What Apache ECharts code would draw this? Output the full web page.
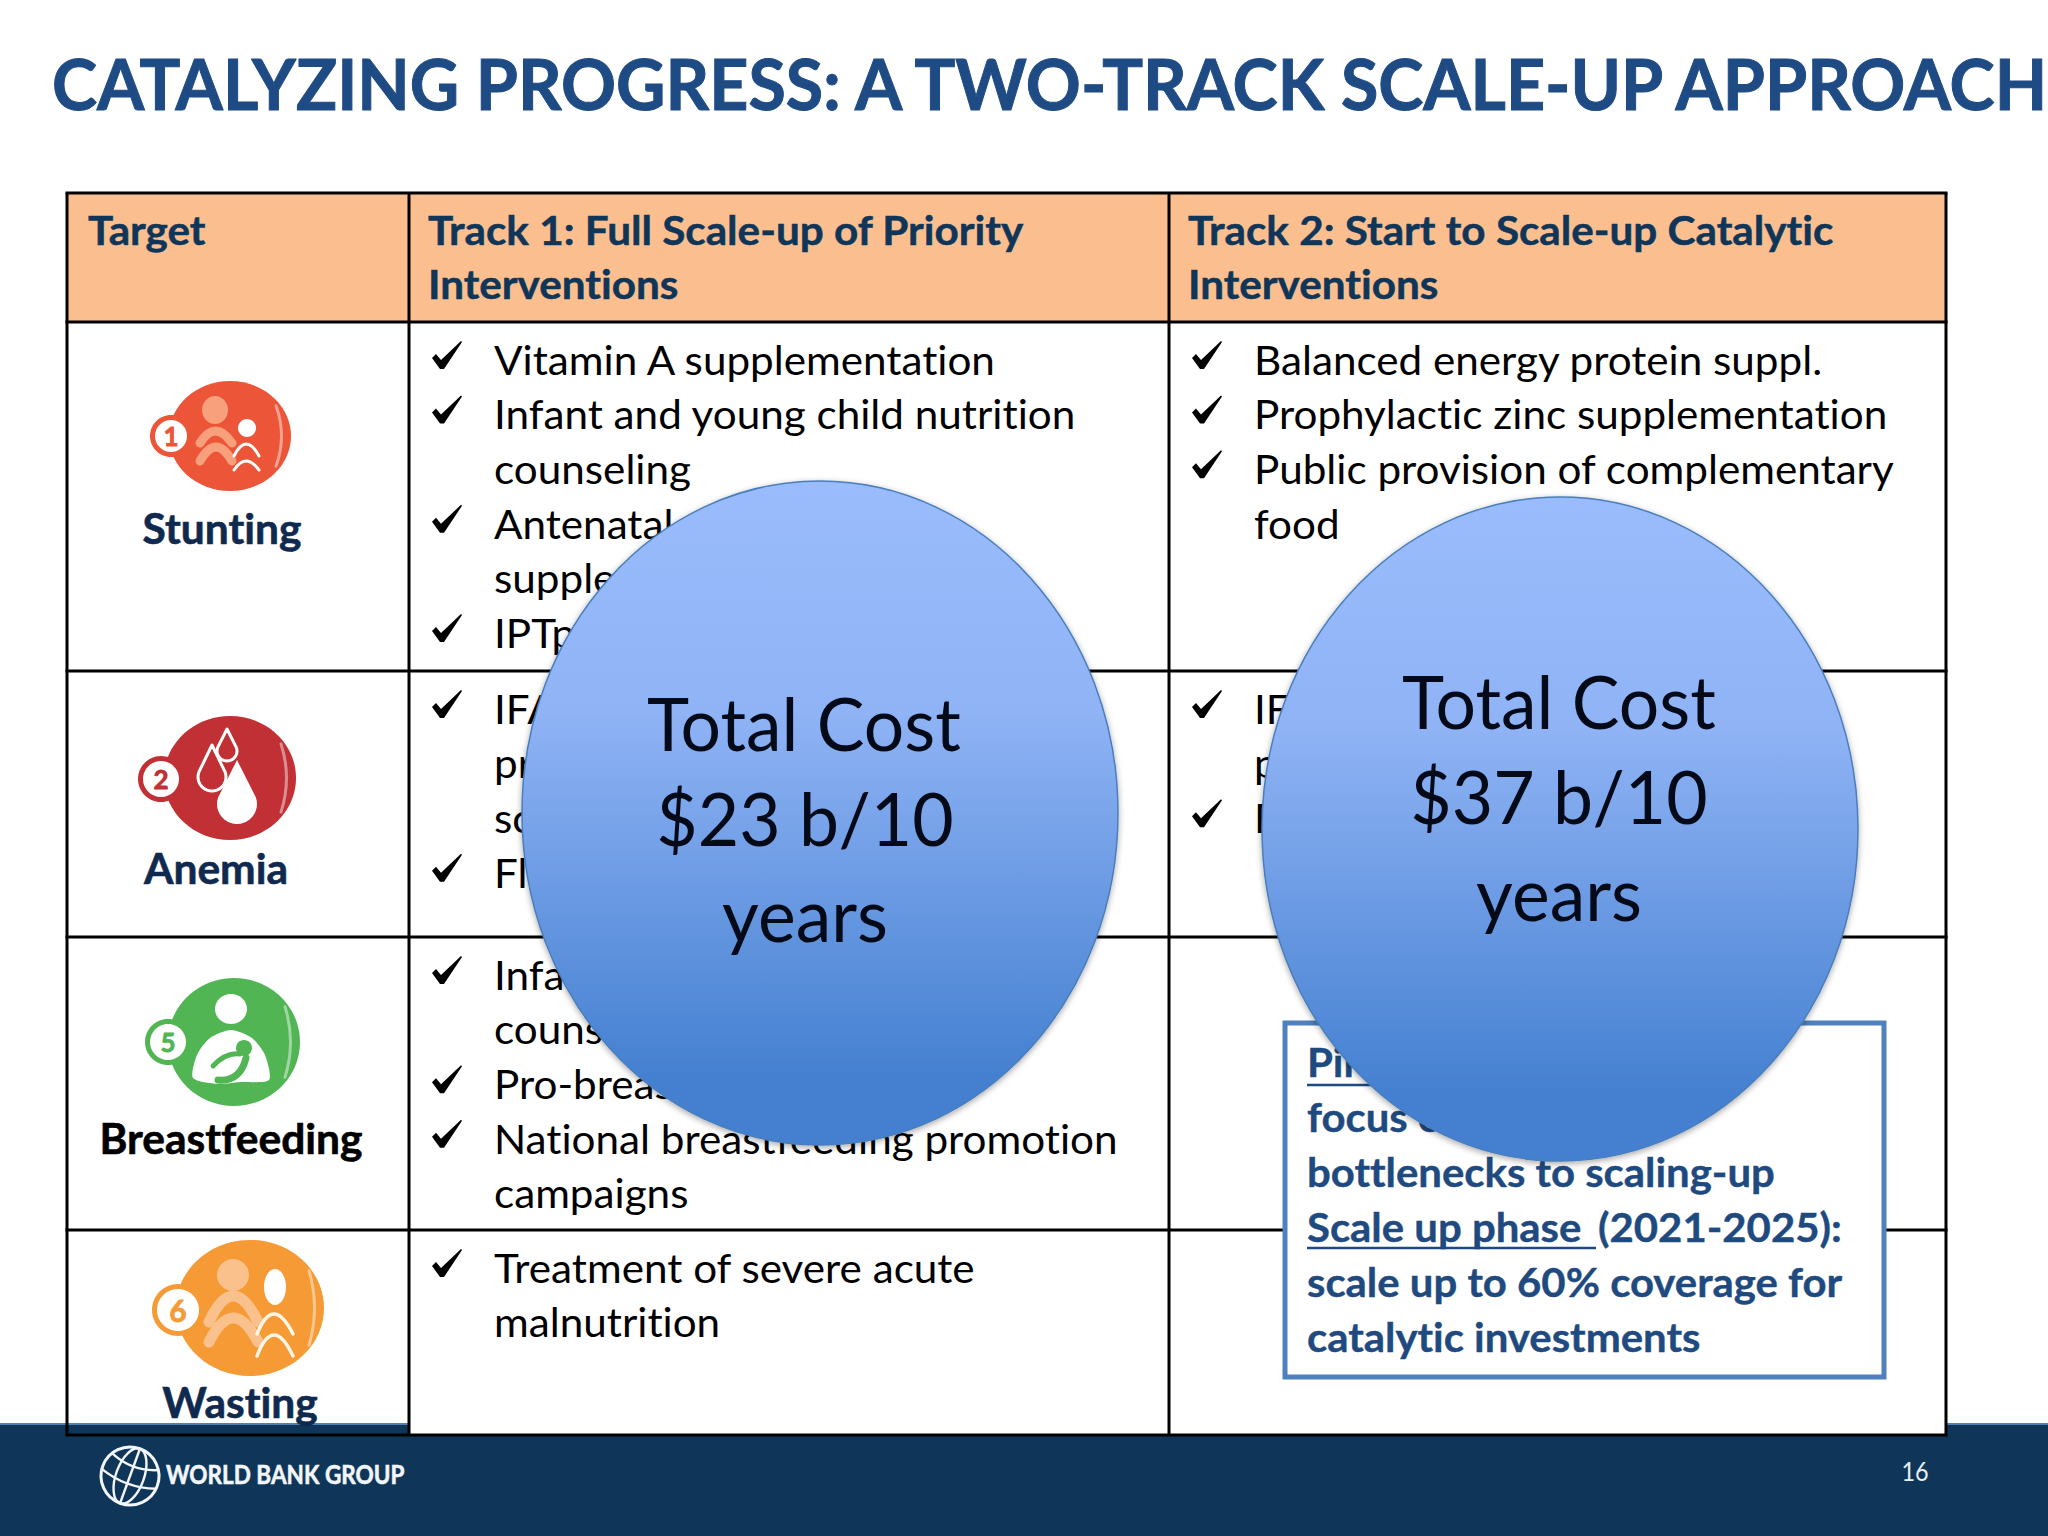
<!DOCTYPE html>
<html><head><meta charset="utf-8">
<style>html,body{margin:0;padding:0;background:#fff}#c{width:2048px;height:1536px}
svg text{font-variant-ligatures:none !important}</style>
<script src="https://cdn.jsdelivr.net/npm/echarts@6/dist/echarts.min.js"></script>
</head><body><div id="c"></div>
<script>
// ---------- content ----------
const titleText = "CATALYZING PROGRESS: A TWO-TRACK SCALE-UP APPROACH";
const headers = [["Target"],
  ["Track 1: Full Scale-up of Priority","Interventions"],
  ["Track 2: Start to Scale-up Catalytic","Interventions"]];
const targets = ["Stunting","Anemia","Breastfeeding","Wasting"];
const badgeNumbers = ["1","2","5","6"];
// "* " marks a line that starts with a check mark
const track1Stunting = ["* Vitamin A supplementation","* Infant and young child nutrition","counseling","* Antenatal","supple","* IPTp"];
const track1Anemia = ["* IFA","pr","sc","* Fl"];
const track1Breastfeeding = ["* Infa","couns","* Pro-breastfeeding policies","* National breastfeeding promotion","campaigns"];
const track1Wasting = ["* Treatment of severe acute","malnutrition"];
const track2Stunting = ["* Balanced energy protein suppl.","* Prophylactic zinc supplementation","* Public provision of complementary","food"];
const track2Anemia = ["* IF","p","* F"];
const costCircle1 = ["Total Cost","$23 b/10","years"];
const costCircle2 = ["Total Cost","$37 b/10","years"];
const boxUnderlined1 = "Pil";
const boxLine2 = "focus o";
const boxLine3 = "bottlenecks to scaling-up";
const boxUnderlined4 = "Scale up phase ";
const boxLine4Rest = "(2021-2025):";
const boxLine5 = "scale up to 60% coverage for";
const boxLine6 = "catalytic investments";
const logoText = "WORLD BANK GROUP";
const pageNumber = "16";

// ---------- layout ----------
const FONT = "Lato, 'Noto Sans', sans-serif";
const colX = [67,409,1169,1946];
const rowY = [193,322,671,937,1230,1435];
const LH = 54.6, FIRST = 40, BODY = 41, BODY_SX = 1.03, TEXT_DY = -3;
const NAVY = "#0f3659", TITLE = "#1f4b85", BOXC = "#1f4a80";
const g = [];
function txt(t,x,y,o){o=o||{};const st={
  text:t,fill:o.fill||'#000',font:(o.bold?'bold ':'')+(o.size||BODY)+'px '+FONT,
  textAlign:o.align||'left',textVerticalAlign:'middle',align:o.align||'left',verticalAlign:'middle'};
  if(o.heavy){st.stroke=o.fill;st.lineWidth=o.heavy;}
  g.push({type:'text',x,y:y+TEXT_DY,scaleX:o.sx||1,scaleY:o.sy||1,z:o.z||10,style:st});}
function rect(x,y,w,h,fill,o){o=o||{};g.push({type:'rect',z:o.z||1,shape:{x,y,width:w,height:h},style:{fill,stroke:o.stroke||null,lineWidth:o.lw||0}});}
function line(x1,y1,x2,y2,c,w,z){g.push({type:'line',z:z||5,shape:{x1,y1,x2,y2},style:{stroke:c,lineWidth:w}});}
function ell(cx,cy,rx,ry,fill,o){o=o||{};g.push({type:'ellipse',z:o.z||6,shape:{cx,cy,rx,ry},style:Object.assign({fill,stroke:o.stroke||null,lineWidth:o.lw||0},o.extra||{})});}
function curve(x1,y1,cx,cy,x2,y2,c,w,z){g.push({type:'bezierCurve',z:z||7,shape:{x1,y1,cpx1:cx,cpy1:cy,x2,y2},style:{stroke:c,lineWidth:w,fill:null,lineCap:'round'}});}
function check(x,y){const p=[[0,17],[4,13],[9,19],[29,0],[30,1],[12,28],[8,28]].map(a=>[x+a[0],y+a[1]]);
  g.push({type:'polygon',z:8,shape:{points:p},style:{fill:'#000'}});}
function drop(cx,top,cy,r,fill,stroke,lw,z){const pts=[[cx,top]];for(let a=-20;a<=200;a+=10){const t=a*Math.PI/180;pts.push([cx+r*Math.cos(t),cy+r*Math.sin(t)]);}
  g.push({type:'polygon',z:z||7,shape:{points:pts},style:{fill,stroke:stroke||null,lineWidth:lw||0,lineJoin:'round'}});}

// footer band (sits under the table)
rect(0,1424,2048,112,NAVY,{z:1});
rect(0,1423,2048,2,'#4f7fb5',{z:1});
// title
txt(titleText,52,86,{size:70,bold:true,fill:TITLE,sx:0.973,heavy:1});
// table fills
rect(colX[0],rowY[0],colX[3]-colX[0],rowY[1]-rowY[0],'#fbbf8f',{z:2});
rect(colX[1],rowY[1],colX[3]-colX[1],rowY[5]-rowY[1],'#fff',{z:2});
// table lines
rowY.forEach(y=>line(colX[0]-1.5,y,colX[3]+1.5,y,'#000',3));
colX.forEach(x=>line(x,rowY[0],x,rowY[5],'#000',3));
// headers
const hdrX=[88,428,1188];
headers.forEach((h,i)=>h.forEach((t,j)=>txt(t,hdrX[i],232+j*LH,{bold:true,fill:NAVY,sx:BODY_SX,heavy:0.5})));
// body text
function cell(lines,col,row){const xt=col===1?494:1254,xc=col===1?432:1192;
  lines.forEach((s,i)=>{const y=rowY[row]+FIRST+i*LH;let t=s;
    if(s.startsWith('* ')){t=s.slice(2);check(xc,y-21);}
    txt(t,xt,y,{sx:BODY_SX});});}
cell(track1Stunting,1,1);cell(track1Anemia,1,2);cell(track1Breastfeeding,1,3);cell(track1Wasting,1,4);
cell(track2Stunting,2,1);cell(track2Anemia,2,2);

// icons
const DK="#10294f";
const labelPos=[[222,531,DK],[216,871,DK],[231,1141,'#000'],[240,1405,DK]];
targets.forEach((t,i)=>txt(t,labelPos[i][0],labelPos[i][1],{bold:true,size:42,fill:labelPos[i][2],align:'center',sx:1.012,heavy:0.6}));
const badge=[[171,436,21,16,'#ec5538',230,436,61,55],[161,779,23,18,'#c03035',230,778,66,62],[168,1042,23,18,'#52b554',234,1042,66,64],[178,1310,26,21,'#f59a35',250,1308,74,68]];
badge.forEach((b,i)=>{
  ell(b[5],b[6],b[7],b[8],b[4]);
  ell(b[0],b[1],b[2],b[2],b[4]);
  ell(b[0],b[1],b[3],b[3],'#fff',{z:7});
  txt(badgeNumbers[i],b[0],b[1]+3,{bold:true,size:i===3?30:26,fill:b[4],align:'center',z:8,heavy:0.8});
  curve(b[5]+b[7]-15,b[6]-b[8]*0.55,b[5]+b[7]-4,b[6],b[5]+b[7]-15,b[6]+b[8]*0.55,'rgba(255,255,255,.45)',3);
});
// person pair: stunting
ell(215,410,13,14,'#f8a07c',{z:7});
curve(200,443,215,419,232,443,'#f8a07c',9);curve(200,461,216,433,232,461,'#f8a07c',9);
ell(247,428,9,9,'#fff',{z:7});
curve(234,456,246,432,259,456,'#fff',3);curve(234,470,246,452,259,470,'#fff',3);
// anemia drops
drop(237,760,804,20,'#fff');
drop(212,745,777,14,'#c03035','#fff',3,8);
drop(227,729,751,10,'#c03035','#fff',3,8);
// breastfeeding
ell(231,1009,16,15,'#fff',{z:7});
g.push({type:'polygon',z:7,shape:{smooth:0.25,points:[[193,1078],[197,1055],[210,1038],[231,1030],[252,1038],[265,1055],[269,1080],[240,1082],[218,1084]]},style:{fill:'#fff'}});
ell(244,1048,8,8,'#52b554',{z:8});
curve(213,1066,226,1052,240,1054,'#52b554',5,8);curve(218,1080,240,1082,246,1058,'#52b554',7,8);
// wasting
ell(233,1275,16,16,'#fbc18c',{z:7});
curve(209,1322,233,1270,258,1322,'#fbc18c',11);curve(209,1342,233,1294,258,1342,'#fbc18c',11);
ell(275,1287,11,18,'#fff',{z:7});
curve(257,1334,273,1294,293,1334,'#fff6e8',3.5);curve(257,1356,273,1314,293,1356,'#fff6e8',3.5);

// logo
const gs=g.length, GC='#f2f6fa';
ell(0,0,29,29,'none',{stroke:GC,lw:3,z:7});
ell(0,0,14,29,'none',{stroke:GC,lw:2.4,z:7});
line(0,-29,0,29,GC,2.4,7);
curve(-24,-15,0,-5,24,-15,GC,2.4);
curve(-29,3,0,13,29,3,GC,2.4);
const gl=g.splice(gs);
g.push({type:'group',x:130,y:1476,rotation:-0.35,children:gl});
txt(logoText,166,1476,{bold:true,size:27,fill:GC,sx:0.835,heavy:0.6});
txt(pageNumber,1915,1474,{size:26,fill:'#e8eef5',align:'center',sx:0.9});

// callout box
const BOX_X=1307,BL=[1064,1119,1174,1229,1284,1339];
g.push({type:'rect',z:12,shape:{x:1285,y:1023,width:599,height:354},style:{fill:'#fff',stroke:'#5080bd',lineWidth:5}});
const bo={bold:true,fill:BOXC,z:13,sx:1.022,size:41,heavy:0.4};
txt(boxUnderlined1,BOX_X,BL[0],bo);line(BOX_X,BL[0]+21,1420,BL[0]+21,BOXC,2.5,13);
txt(boxLine2,BOX_X,BL[1],bo);txt(boxLine3,BOX_X,BL[2],bo);
txt(boxUnderlined4,BOX_X,BL[3],bo);line(BOX_X,BL[3]+19,1596,BL[3]+19,BOXC,2.5,13);
txt(boxLine4Rest,1598,BL[3],bo);txt(boxLine5,BOX_X,BL[4],bo);txt(boxLine6,BOX_X,BL[5],bo);

// cost circles
function cost(cx,cy,lines,tx,ys){
  g.push({type:'ellipse',z:20,shape:{cx,cy,rx:298,ry:332},style:{
    fill:new echarts.graphic.LinearGradient(0,0,0,1,[{offset:0,color:'#9abcfd'},{offset:0.35,color:'#8fb3f5'},{offset:0.9,color:'#4480d0'},{offset:1,color:'#4480d0'}]),
    stroke:'#4a7ebb',lineWidth:1.5,shadowBlur:6,shadowColor:'rgba(0,0,0,.35)',shadowOffsetY:2}});
  lines.forEach((t,i)=>txt(t,tx[i],ys[i],{size:74,fill:'#050a18',align:'center',z:21,sx:0.966}));
}
cost(820,813,costCircle1,[804,805,805],[725,820,916]);
cost(1560,829,costCircle2,[1559,1559,1559],[703,798,895]);

const chart=echarts.init(document.getElementById('c'),null,{renderer:'svg',width:2048,height:1536});
chart.setOption({animation:false,backgroundColor:'#fff',graphic:{elements:g}});
</script></body></html>
